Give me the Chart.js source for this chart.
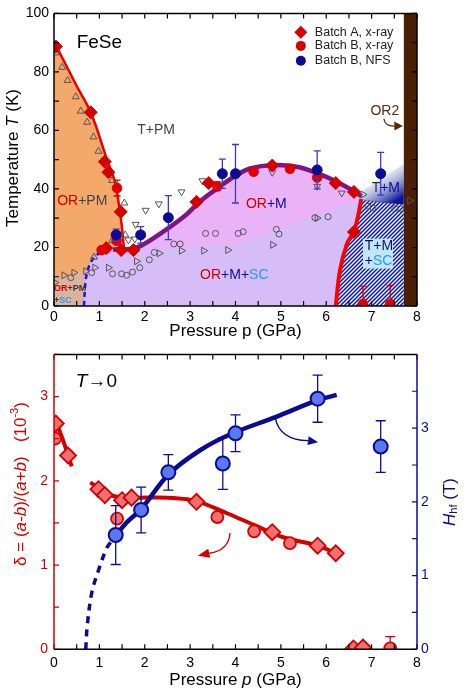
<!DOCTYPE html>
<html>
<head>
<meta charset="utf-8">
<title>FeSe pressure phase diagram</title>
<script src="https://cdn.jsdelivr.net/npm/chart.js@4.4.1/dist/chart.umd.min.js"></script>
<style>
  body { margin: 0; background: #fff; }
  .panel { position: absolute; left: 0; }
</style>
</head>
<body>
<canvas id="top" class="panel" width="469" height="340" style="top:0"></canvas>
<canvas id="bottom" class="panel" width="469" height="351" style="top:340px"></canvas>
<script>
const FONT = '"Liberation Sans", Arial, Helvetica, sans-serif';
Chart.defaults.font.family = FONT;
Chart.defaults.color = '#000';

const RED = '#d40000';
const NAVY = '#0b0b96';
const GREY = '#555555';
const SKY = '#1e9cff';
const BROWN = '#5a2a08';

// ---------- top panel: T-p phase diagram ----------
const xTicks = [0, 1, 2, 3, 4, 5, 6, 7, 8];
const xMinor = [0.5, 1.5, 2.5, 3.5, 4.5, 5.5, 6.5, 7.5];
const tTicks = [0, 20, 40, 60, 80, 100];
const tMinor = [10, 30, 50, 70, 90];

// Batch A, x-ray (diamonds)
const aP = [0.04, 0.81, 1.12, 1.20, 1.47, 1.15, 1.48, 1.75, 3.14, 3.41, 4.81, 6.21, 6.61, 6.61];
const aT = [88.7, 66.2, 49.3, 45.7, 32.2, 19.8, 19.1, 19.1, 35.6, 42.0, 48.0, 42.0, 39.0, 25.3];
// Batch B, x-ray (red circles)
const bP = [1.39, 1.38, 1.05, 3.60, 4.40, 5.20, 5.80, 6.81, 7.41];
const bT = [40.3, 22.3, 19.1, 40.9, 45.9, 46.9, 43.9, 0.7, 0.7];
const bErr = [2.7, 0, 0, 1.5, 1.2, 1.2, 0, 6.1, 6.3];
// Batch B, NFS (blue circles)
const nP = [1.37, 1.91, 2.52, 3.71, 4.00, 5.80, 7.20];
const nT = [24.3, 24.3, 30.2, 45.2, 45.2, 46.5, 45.2];
const nErr = [2.0, 2.8, 7.5, 5.0, 10.0, 6.5, 7.3];

// literature points (open grey symbols)
const upP = [0.04, 0.18, 0.30, 0.48, 0.59, 0.73, 0.87, 0.98, 1.28, 1.55, 1.28, 1.57, 0.88];
const upT = [86.5, 81.6, 77.1, 71.5, 66.6, 62.8, 57.8, 52.9, 42.9, 35.2, 22.3, 24.3, 16.7];
const dnP = [1.64, 1.78, 1.80, 2.02, 2.31, 2.81, 3.27, 4.81, 5.80, 6.34];
const dnT = [22.6, 22.9, 27.9, 32.7, 34.9, 39.0, 42.8, 45.7, 40.9, 38.6];
const rtP = [0.02, 0.22, 0.44, 0.70, 0.90, 1.20, 1.82, 2.32, 2.81, 3.30, 3.83, 4.82, 5.80, 6.81, 7.84];
const rtT = [8.0, 10.5, 11.4, 11.9, 13.1, 13.1, 15.3, 18.0, 18.9, 18.9, 19.1, 20.9, 30.0, 38.1, 36.0];
const ciP = [0.37, 0.83, 1.29, 1.49, 1.60, 1.73, 1.89, 2.10, 2.21, 2.64, 2.78, 3.34, 3.56, 4.06, 4.17, 4.90, 4.96, 5.75, 6.04, 6.92, 7.03, 7.51, 7.64];
const ciT = [9.7, 11.4, 11.0, 11.0, 10.5, 11.6, 13.1, 15.8, 18.3, 21.2, 21.2, 24.8, 24.8, 24.8, 25.4, 26.2, 24.6, 30.2, 30.5, 34.1, 33.5, 33.3, 33.3];

// phase boundaries
const tsP = [0.00, 0.50, 0.81, 1.16, 1.34, 1.42, 1.49, 1.54];       // structural (red)
const tsT = [90.4, 75.2, 66.2, 50.4, 42.6, 35.8, 27.9, 20.0];
const tmP = [1.30, 1.75, 2.00, 2.48, 2.92, 3.22, 3.66, 4.00, 4.32, 4.83, 5.35, 5.80, 6.21, 6.61, 6.78]; // magnetic (purple)
const tmT = [19.3, 19.6, 21.3, 26.2, 31.3, 35.8, 40.9, 44.5, 47.0, 48.2, 47.6, 45.4, 42.6, 39.2, 37.5];
const tcP = [6.21, 6.30, 6.45, 6.61, 6.70, 6.77];                   // OR -> T (red, right)
const tcT = [0.0, 12.0, 21.0, 25.5, 30.7, 36.5];
const scP = [0.66, 0.70, 0.77, 0.89, 1.00, 1.30];                   // SC onset (blue dashed)
const scT = [0.0, 9.0, 13.5, 16.7, 18.0, 19.5];
const scTopP = [1.30, 2.00, 4.00, 6.77];                            // upper edge of OR+M+SC
const scTopT = [17.5, 19.5, 21.0, 36.5];
const pmScP = [0.00, 0.00, 0.74, 0.70, 0.66];                       // OR+PM+SC corner
const pmScT = [0.0, 9.5, 12.3, 9.0, 0.0];
const tmWedgeP = [6.70, 7.71, 7.71, 6.77];                          // T+M
const tmWedgeT = [38.5, 48.5, 34.7, 36.0];
const or2P = [7.71, 7.71, 8.00, 8.00];                              // OR2
const or2T = [0, 100, 100, 0];

// ---------- bottom panel: T -> 0 ----------
const dTicks = [0, 1, 2, 3];
const dMinor = [0.5, 1.5, 2.5, 3.5];
const hTicks = [0, 1, 2, 3];
const hMinor = [0.5, 1.5, 2.5, 3.5];

const dAP = [0.04, 0.31, 0.98, 1.12, 1.50, 1.71, 3.14, 4.81, 5.81, 6.21, 6.60, 6.81];
const dAV = [2.68, 2.30, 1.90, 1.83, 1.77, 1.80, 1.75, 1.39, 1.23, 1.14, 0.01, 0.02];
const dBP = [0.02, 1.39, 3.60, 4.41, 5.20, 7.41];
const dBV = [2.50, 1.55, 1.57, 1.40, 1.26, 0.01];
const dBErr = [0, 0, 0, 0, 0, 0.14];
const hP = [1.36, 1.92, 2.52, 3.72, 4.00, 5.81, 7.20];
const hV = [1.55, 1.89, 2.40, 2.52, 2.93, 3.40, 2.75];
const hErr = [0.40, 0.31, 0.24, 0.35, 0.25, 0.32, 0.35];

const dFit1P = [0.00, 0.20, 0.39];
const dFit1V = [2.76, 2.48, 2.17];
const dFit2P = [0.80, 1.10, 1.31, 1.60, 1.89, 2.50, 2.94, 3.30, 3.88, 4.39, 5.05, 5.81, 6.21];
const dFit2V = [1.98, 1.87, 1.82, 1.80, 1.80, 1.80, 1.78, 1.73, 1.60, 1.48, 1.33, 1.23, 1.14];
const hFitP = [1.27, 1.60, 1.92, 2.52, 3.22, 3.90, 4.88, 5.81, 6.23];
const hFitV = [1.47, 1.72, 1.90, 2.37, 2.70, 2.92, 3.15, 3.38, 3.45];
const hDashP = [0.70, 0.73, 0.83, 0.98, 1.16, 1.27];
const hDashV = [0.00, 0.30, 0.76, 1.07, 1.37, 1.47];

// ---------- helpers ----------
const xy = (xs, ys) => xs.map((x, i) => ({ x: x, y: ys[i] }));
const rev = a => a.slice().reverse();
const S = (t, c, z, st, dy) => ({ t: t, c: c, z: z || 14, st: st || '', dy: dy || 0 });

function hatch(bg, fg, period, lw) {
  const c = document.createElement('canvas');
  c.width = c.height = period;
  const g = c.getContext('2d');
  g.fillStyle = bg;
  g.fillRect(0, 0, period, period);
  g.strokeStyle = fg;
  g.lineWidth = lw;
  g.beginPath();
  for (let k = -1; k <= 1; k++) {
    g.moveTo(k * period - 1, period + 1);
    g.lineTo(k * period + period + 1, -1);
  }
  g.stroke();
  return g.createPattern(c, 'repeat');
}

function marks(data, style, r, fill, edge, bw, order, extra) {
  return Object.assign({
    data: data, showLine: false, pointStyle: style, pointRadius: r,
    pointBackgroundColor: fill, pointBorderColor: edge, pointBorderWidth: bw,
    order: order, clip: 0
  }, extra || {});
}

function area(data, color, order) {
  return {
    data: data, fill: 'shape', backgroundColor: color, borderColor: 'rgba(0,0,0,0)',
    borderWidth: 0, pointRadius: 0, tension: 0, order: order, clip: 0
  };
}

function curve(data, color, width, order, extra) {
  return Object.assign({
    data: data, borderColor: color, borderWidth: width, pointRadius: 0,
    tension: 0.35, fill: false, order: order, clip: 0, borderCapStyle: 'butt'
  }, extra || {});
}

function richText(ctx, x, y, segs, align, rot) {
  ctx.save();
  ctx.translate(x, y);
  if (rot) ctx.rotate(rot);
  ctx.textBaseline = 'middle';
  ctx.textAlign = 'left';
  const ws = segs.map(s => { ctx.font = s.st + ' ' + s.z + 'px ' + FONT; return ctx.measureText(s.t).width; });
  const total = ws.reduce((a, b) => a + b, 0);
  let cx = align === 'left' ? 0 : (align === 'right' ? -total : -total / 2);
  segs.forEach((s, i) => {
    ctx.font = s.st + ' ' + s.z + 'px ' + FONT;
    ctx.fillStyle = s.c;
    ctx.fillText(s.t, cx, s.dy);
    cx += ws[i];
  });
  ctx.restore();
}

function tickMarks(ctx, scale, vals, color, side, a, len) {
  ctx.strokeStyle = color;
  ctx.lineWidth = 1.2;
  ctx.beginPath();
  vals.forEach(v => {
    const q = scale.getPixelForValue(v);
    if (side === 'bottom') { ctx.moveTo(q, a.bottom); ctx.lineTo(q, a.bottom - len); }
    if (side === 'top') { ctx.moveTo(q, a.top); ctx.lineTo(q, a.top + len); }
    if (side === 'left') { ctx.moveTo(a.left, q); ctx.lineTo(a.left + len, q); }
    if (side === 'right') { ctx.moveTo(a.right, q); ctx.lineTo(a.right - len, q); }
  });
  ctx.stroke();
}

function spine(ctx, x1, y1, x2, y2, color) {
  ctx.strokeStyle = color;
  ctx.lineWidth = 1.5;
  ctx.beginPath();
  ctx.moveTo(x1, y1);
  ctx.lineTo(x2, y2);
  ctx.stroke();
}

// curved annotation arrow, points in pixels: start, control, base of head, tip
function arrow(ctx, s, c, e, tip, color, lw) {
  ctx.strokeStyle = color;
  ctx.fillStyle = color;
  ctx.lineWidth = lw;
  ctx.beginPath();
  ctx.moveTo(s[0], s[1]);
  ctx.quadraticCurveTo(c[0], c[1], e[0], e[1]);
  ctx.stroke();
  const ang = Math.atan2(tip[1] - e[1], tip[0] - e[0]);
  const hw = 4.5;
  ctx.beginPath();
  ctx.moveTo(tip[0], tip[1]);
  ctx.lineTo(e[0] + Math.sin(ang) * hw, e[1] - Math.cos(ang) * hw);
  ctx.lineTo(e[0] - Math.sin(ang) * hw, e[1] + Math.cos(ang) * hw);
  ctx.closePath();
  ctx.fill();
}

const errorBars = {
  id: 'errorBars',
  beforeDatasetDraw(chart, args) {
    const ds = chart.data.datasets[args.index];
    if (!ds.errY) return;
    const ctx = chart.ctx, a = chart.chartArea;
    const xs = chart.scales.x, ys = chart.scales[ds.yAxisID || 'y'];
    ctx.save();
    ctx.beginPath();
    ctx.rect(a.left, a.top, a.right - a.left, a.bottom - a.top);
    ctx.clip();
    ctx.strokeStyle = ds.errColor;
    ctx.lineWidth = 1.3;
    ds.data.forEach((d, i) => {
      const e = ds.errY[i];
      if (!e) return;
      const x = xs.getPixelForValue(d.x);
      const y1 = ys.getPixelForValue(d.y - e), y2 = ys.getPixelForValue(d.y + e);
      const c = ds.capW;
      ctx.beginPath();
      ctx.moveTo(x, y1); ctx.lineTo(x, y2);
      ctx.moveTo(x - c, y1); ctx.lineTo(x + c, y1);
      ctx.moveTo(x - c, y2); ctx.lineTo(x + c, y2);
      ctx.stroke();
    });
    ctx.restore();
  }
};

function linAxis(min, max, ticks, pos, size, pad, color) {
  return {
    type: 'linear', position: pos, min: min, max: max,
    afterBuildTicks: s => { s.ticks = ticks.map(v => ({ value: v })); },
    afterFit: s => { if (pos === 'bottom') s.height = size; else s.width = size; },
    grid: { display: false, drawTicks: false },
    border: { display: false },
    ticks: { padding: pad, color: color, font: { size: 14 }, maxRotation: 0, autoSkip: false, callback: v => String(v) }
  };
}

// ---------- top chart ----------
const purpleHatch = hatch('#eab3f8', '#b6cdf6', 4, 1.1);
const orangeHatch = hatch('#f4a96c', '#b8c3ea', 4, 1.1);
const navyHatch = hatch('#0c1a9e', '#ffffff', 4, 1.3);

const topLabels = [
  { p: 0.50, t: 89.9, align: 'left', segs: [S('FeSe', '#000', 19)] },
  { p: 2.25, t: 60.1, align: 'center', segs: [S('T+PM', '#444')] },
  { p: 0.07, t: 35.8, align: 'left', segs: [S('OR', RED), S('+PM', '#444')] },
  { p: 4.23, t: 34.8, align: 'left', segs: [S('OR', RED), S('+M', NAVY)] },
  { p: 3.22, t: 10.5, align: 'left', segs: [S('OR', RED), S('+M', NAVY), S('+', NAVY), S('SC', SKY)] },
  { p: 7.00, t: 40.2, align: 'left', segs: [S('T', '#2a2a55'), S('+M', NAVY)] },
  { p: 6.85, t: 20.3, align: 'left', segs: [S('T+M', '#101060')] },
  { p: 6.85, t: 15.2, align: 'left', segs: [S('+', '#101060'), S('SC', SKY)] },
  { p: 7.29, t: 66.6, align: 'center', segs: [S('OR2', BROWN)] },
  { p: 0.00, t: 6.0, align: 'left', segs: [S('OR', RED, 9, 'bold'), S('+PM', '#333', 9, 'bold')] },
  { p: 0.00, t: 2.0, align: 'left', segs: [S('+', '#333', 9, 'bold'), S('SC', SKY, 9, 'bold')] }
];

function drawTop(chart) {
  const ctx = chart.ctx, a = chart.chartArea, x = chart.scales.x, y = chart.scales.y;
  const P = (p, t) => [x.getPixelForValue(p), y.getPixelForValue(t)];
  ctx.save();

  // T+M+SC label box
  const b1 = P(6.81, 23.0), b2 = P(7.47, 12.8);
  ctx.fillStyle = '#bfe6fb';
  ctx.fillRect(b1[0], b1[1], b2[0] - b1[0], b2[1] - b1[1]);

  topLabels.forEach(l => { const q = P(l.p, l.t); richText(ctx, q[0], q[1], l.segs, l.align); });

  // OR2 arrow
  arrow(ctx, P(7.27, 64.0), P(7.29, 61.5), P(7.50, 61.5), P(7.69, 61.5), BROWN, 1.3);

  // legend
  const legend = [
    { t: 'Batch A, x-ray', kind: 'diamond', c: RED },
    { t: 'Batch B, x-ray', kind: 'circle', c: RED },
    { t: 'Batch B, NFS', kind: 'circle', c: NAVY }
  ];
  const legendT = [93.6, 88.9, 83.8];
  legend.forEach((it, i) => {
    const m = P(5.44, legendT[i]);
    ctx.fillStyle = it.c;
    ctx.beginPath();
    if (it.kind === 'diamond') {
      ctx.moveTo(m[0], m[1] - 6.5); ctx.lineTo(m[0] + 6.5, m[1]);
      ctx.lineTo(m[0], m[1] + 6.5); ctx.lineTo(m[0] - 6.5, m[1]);
      ctx.closePath();
    } else {
      ctx.arc(m[0], m[1], 5, 0, Math.PI * 2);
    }
    ctx.fill();
    richText(ctx, m[0] + 14, m[1], [S(it.t, '#222', 12.5)], 'left');
  });

  // frame and inward ticks
  tickMarks(ctx, x, xTicks.concat(xMinor), '#000', 'bottom', a, 5);
  tickMarks(ctx, x, xTicks.concat(xMinor), '#000', 'top', a, 5);
  tickMarks(ctx, y, tTicks.concat(tMinor), '#000', 'left', a, 5);
  tickMarks(ctx, y, tTicks.concat(tMinor), '#000', 'right', a, 5);
  spine(ctx, a.left, a.top, a.right, a.top, '#000');
  spine(ctx, a.left, a.bottom, a.right, a.bottom, '#000');
  spine(ctx, a.left, a.top, a.left, a.bottom, '#000');
  spine(ctx, a.right, a.top, a.right, a.bottom, '#000');

  // axis titles
  richText(ctx, (a.left + a.right) / 2, 331, [S('Pressure p (GPa)', '#000', 17)], 'center');
  richText(ctx, 13, 158, [S('Temperature ', '#000', 17), S('T', '#000', 17, 'italic'), S(' (K)', '#000', 17)], 'center', -Math.PI / 2);
  ctx.restore();
}

new Chart(document.getElementById('top'), {
  type: 'line',
  data: {
    datasets: [
      marks(xy(nP, nT), 'circle', 5, NAVY, NAVY, 1, 0, { errY: nErr, errColor: '#3b3bc4', capW: 3.5 }),
      marks(xy(bP, bT), 'circle', 4.8, '#e00000', '#e00000', 1, 1, { errY: bErr, errColor: '#e00000', capW: 3.5 }),
      marks(xy(aP, aT), 'rectRot', 6.5, RED, RED, 1, 1),
      marks(xy(upP, upT), 'triangle', 4, 'rgba(0,0,0,0)', GREY, 1, 3),
      marks(xy(dnP, dnT), 'triangle', 4, 'rgba(0,0,0,0)', GREY, 1, 3, { pointRotation: 180 }),
      marks(xy(rtP, rtT), 'triangle', 4, 'rgba(0,0,0,0)', GREY, 1, 3, { pointRotation: 90 }),
      marks(xy(ciP, ciT), 'circle', 3, 'rgba(0,0,0,0)', GREY, 1, 3),
      curve(xy(tsP, tsT), '#ee0000', 2.5, 5),
      curve(xy(tmP, tmT), '#7d1585', 4.5, 5),
      curve(xy(tcP, tcT), '#ff0000', 4, 5),
      curve(xy(scP, scT), '#1010ff', 2.5, 5, { borderDash: [5, 4] }),
      area(xy(or2P, or2T), '#4a1f03', 9),
      area(xy(tmWedgeP, tmWedgeT), function (c) {
        const ch = c.chart;
        if (!ch.chartArea) return NAVY;
        const x = ch.scales.x, y = ch.scales.y;
        const g = ch.ctx.createLinearGradient(x.getPixelForValue(6.95), y.getPixelForValue(47),
                                              x.getPixelForValue(7.45), y.getPixelForValue(35));
        g.addColorStop(0, 'rgba(255,255,255,0)');
        g.addColorStop(1, '#0a1496');
        return g;
      }, 9),
      area(tcP.map((p, i) => ({ x: p, y: tcT[i] })).concat([{ x: 7.71, y: 34.7 }, { x: 7.71, y: 0 }]), navyHatch, 9),
      area(xy(scP.slice(0, 4), scT.slice(0, 4)).concat(xy(scTopP, scTopT), rev(xy(tcP, tcT))), purpleHatch, 9),
      area(xy(pmScP, pmScT), orangeHatch, 9),
      area(xy(scP, scT).concat(xy(tmP.slice(1), tmT.slice(1)), rev(xy(tcP, tcT))), '#eab3f8', 10),
      area([{ x: 0, y: 0 }].concat(xy(tsP, tsT), rev(xy(scP, scT))), '#f4a96c', 10)
    ]
  },
  options: {
    responsive: false, animation: false, events: [],
    layout: { padding: { top: 10, right: 52, left: 0, bottom: 0 } },
    plugins: { legend: { display: false }, tooltip: { enabled: false } },
    scales: {
      x: linAxis(0, 8, xTicks, 'bottom', 34, 3, '#000'),
      y: linAxis(0, 100, tTicks, 'left', 54, 5, '#000')
    }
  },
  plugins: [errorBars, { id: 'topDecor', afterDatasetsDraw: drawTop }]
});

// ---------- bottom chart ----------
function drawBottom(chart) {
  const ctx = chart.ctx, a = chart.chartArea, x = chart.scales.x, y = chart.scales.y, y2 = chart.scales.y2;
  const P = (p, v) => [x.getPixelForValue(p), y.getPixelForValue(v)];
  const Q = (p, v) => [x.getPixelForValue(p), y2.getPixelForValue(v)];
  ctx.save();
  richText(ctx, x.getPixelForValue(0.48), y.getPixelForValue(3.17),
    [S('T', '#000', 19, 'italic'), S('\u2192', '#000', 19), S('0', '#000', 19)], 'left');

  arrow(ctx, P(3.88, 1.38), P(3.85, 1.17), P(3.42, 1.14), P(3.17, 1.11), RED, 1.4);
  arrow(ctx, Q(4.88, 3.13), Q(4.98, 2.84), Q(5.60, 2.83), Q(5.82, 2.81), NAVY, 1.4);

  tickMarks(ctx, x, xTicks.concat(xMinor), '#000', 'bottom', a, 5);
  tickMarks(ctx, x, xTicks.concat(xMinor), '#000', 'top', a, 5);
  tickMarks(ctx, y, dTicks.concat(dMinor), RED, 'left', a, 5);
  tickMarks(ctx, y2, hTicks.concat(hMinor), NAVY, 'right', a, 5);
  spine(ctx, a.left, a.top, a.right, a.top, '#000');
  spine(ctx, a.left, a.bottom, a.right, a.bottom, '#000');
  spine(ctx, a.left, a.top, a.left, a.bottom, RED);
  spine(ctx, a.right, a.top, a.right, a.bottom, NAVY);

  richText(ctx, (a.left + a.right) / 2, 340,
    [S('Pressure ', '#000', 17), S('p', '#000', 17, 'italic'), S(' (GPa)', '#000', 17)], 'center');
  richText(ctx, 21, 144, [
    S('\u03b4 = (', RED, 17), S('a', RED, 17, 'italic'), S('-', RED, 17), S('b', RED, 17, 'italic'),
    S(')/(', RED, 17), S('a', RED, 17, 'italic'), S('+', RED, 17), S('b', RED, 17, 'italic'),
    S(')   (10', RED, 17), S('-3', RED, 11, '', -6), S(')', RED, 17)
  ], 'center', -Math.PI / 2);
  richText(ctx, 450, 162, [
    S('H', NAVY, 17, 'italic'), S('hf', NAVY, 11, '', 4), S(' (T)', NAVY, 17)
  ], 'center', -Math.PI / 2);
  ctx.restore();
}

new Chart(document.getElementById('bottom'), {
  type: 'line',
  data: {
    datasets: [
      marks(xy(hP, hV), 'circle', 7, '#5a78f0', NAVY, 2, 0, { yAxisID: 'y2', errY: hErr, errColor: NAVY, capW: 5 }),
      curve(xy(hFitP, hFitV), NAVY, 4.5, 1, { yAxisID: 'y2' }),
      curve(xy(hDashP, hDashV), NAVY, 3.5, 1, { yAxisID: 'y2', borderDash: [7, 6] }),
      marks(xy(dBP, dBV), 'circle', 6, '#f07070', RED, 1.8, 2, { errY: dBErr, errColor: RED, capW: 5 }),
      marks(xy(dAP, dAV), 'rectRot', 8, '#f07070', RED, 1.8, 2),
      curve(xy(dFit1P, dFit1V), RED, 4, 3),
      curve(xy(dFit2P, dFit2V), RED, 4, 3)
    ]
  },
  options: {
    responsive: false, animation: false, events: [],
    layout: { padding: { top: 14.3, right: 0, left: 0, bottom: 0 } },
    plugins: { legend: { display: false }, tooltip: { enabled: false } },
    scales: {
      x: linAxis(0, 8, xTicks, 'bottom', 41.7, 5, '#000'),
      y: linAxis(0, 3.5, dTicks, 'left', 54, 6, RED),
      y2: linAxis(0, 4, hTicks, 'right', 52, 4, NAVY)
    }
  },
  plugins: [errorBars, { id: 'bottomDecor', afterDatasetsDraw: drawBottom }]
});
</script>
</body>
</html>
